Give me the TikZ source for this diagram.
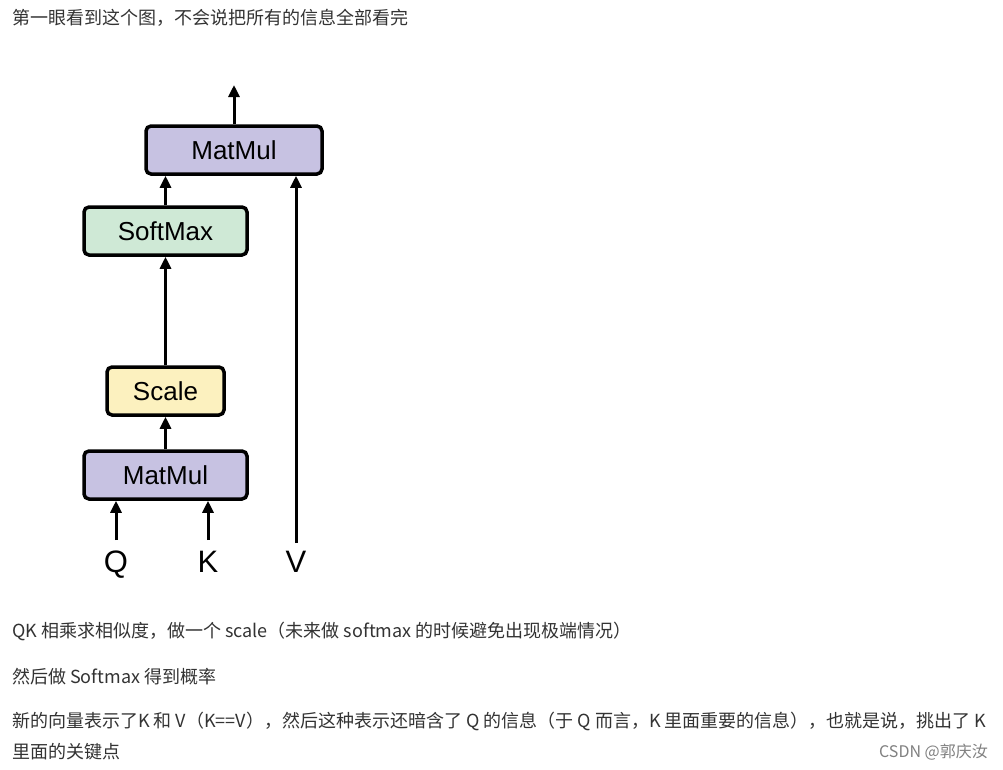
\documentclass[tikz,border=0pt]{standalone}
\usepackage{fontspec}
\setmainfont{Liberation Sans}
\newfontfamily\cjk{Noto Sans CJK SC}
\usetikzlibrary{arrows.meta}
\definecolor{txt}{HTML}{333333}
\definecolor{lav}{HTML}{C7C2E2}
\definecolor{grn}{HTML}{CFE9D6}
\definecolor{ylw}{HTML}{FCF1BF}
\begin{document}
\begin{tikzpicture}[x=1pt,y=-1pt,
  blk/.style={draw=black,line width=3.5pt,rounded corners=5pt,inner sep=0pt,font=\fontsize{26}{28}\selectfont},
  arr/.style={line width=3pt,-{Triangle[length=12pt,width=11pt]}},
  para/.style={anchor=west,text=txt,font=\cjk\fontsize{18}{21}\selectfont,inner sep=0pt},
  lab/.style={anchor=base,font=\fontsize{31}{33}\selectfont,inner sep=0pt}]
\useasboundingbox (0,0) rectangle (1003,769);
\fill[white] (0,0) rectangle (1003,769);
\node[para] (t1) at (12,18) {第一眼看到这个图，不会说把所有的信息全部看完};
\node[blk,fill=lav,minimum width=176pt,minimum height=48pt] (mm2) at (234,150) {MatMul};
\node[blk,fill=grn,minimum width=163pt,minimum height=48pt] (sm) at (165.5,231) {SoftMax};
\node[blk,fill=ylw,minimum width=117pt,minimum height=48pt] (sc) at (165.5,391) {Scale};
\node[blk,fill=lav,minimum width=163pt,minimum height=48pt] (mm1) at (165.5,475) {MatMul};
\node[lab] (q) at (116,572) {Q};
\node[lab] (k) at (208,572) {K};
\node[lab] (v) at (296,572) {V};
\coordinate (out) at (234,85);
\coordinate (qs) at (116,540);
\coordinate (ks) at (208,540);
\coordinate (vs) at (296,543);
\draw[arr] (qs) -- (qs |- mm1.south);
\draw[arr] (ks) -- (ks |- mm1.south);
\draw[arr] (mm1) -- (sc);
\draw[arr] (sc) -- (sm);
\draw[arr] (sm.north) -- (sm.north |- mm2.south);
\draw[arr] (vs) -- (vs |- mm2.south);
\draw[arr] (mm2.north) -- (out);
\node[para] (t2) at (12,631) {QK 相乘求相似度，做一个 scale（未来做 softmax 的时候避免出现极端情况）};
\node[para] (t3) at (12,677) {然后做 Softmax 得到概率};
\node[para] (t4) at (12,721) {新的向量表示了K 和 V（K==V），然后这种表示还暗含了 Q 的信息（于 Q 而言，K 里面重要的信息），也就是说，挑出了 K};
\node[para] (t5) at (12,752) {里面的关键点};
\node[anchor=east,inner sep=0pt,text=gray,font=\cjk\fontsize{16}{18}\selectfont] (wm) at (988,752) {CSDN @郭庆汝};
\end{tikzpicture}
\end{document}
